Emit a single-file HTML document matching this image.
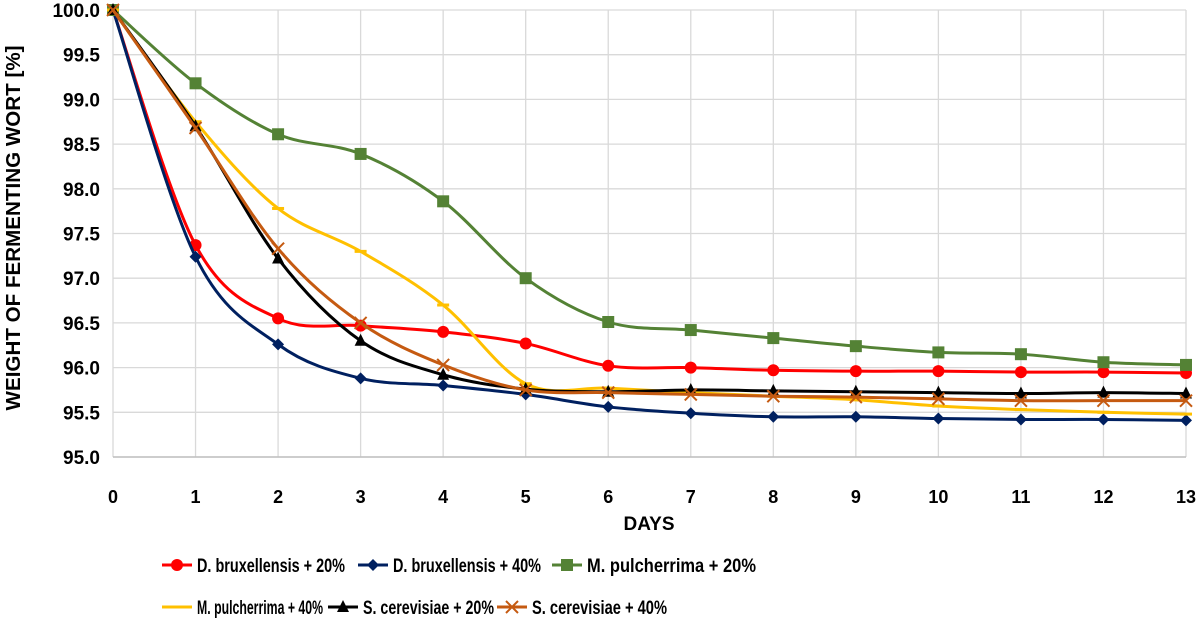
<!DOCTYPE html>
<html><head><meta charset="utf-8"><style>
body{margin:0;background:#fff;}
svg text{font-family:"Liberation Sans",sans-serif;font-weight:bold;fill:#000;}
</style></head><body>
<svg id="chart" width="1200" height="622" viewBox="0 0 1200 622">
<g id="grid"></g>
<g id="yticks"></g>
<g id="xticks"></g>
<g id="series"></g>
<text x="20" y="228" font-size="20" text-anchor="middle" textLength="365" lengthAdjust="spacingAndGlyphs" transform="rotate(-90 20 228)">WEIGHT OF FERMENTING WORT [%]</text>
<text x="649" y="530" font-size="19" text-anchor="middle">DAYS</text>
<g id="legend"></g>
</svg>
<script>
const days=[0,1,2,3,4,5,6,7,8,9,10,11,12,13];
const yTicks=[95.0,95.5,96.0,96.5,97.0,97.5,98.0,98.5,99.0,99.5,100.0];
const names=["D. bruxellensis + 20%","D. bruxellensis + 40%","M. pulcherrima + 20%","M. pulcherrima + 40%","S. cerevisiae + 20%","S. cerevisiae + 40%"];
const dbrux20=[100,97.37,96.55,96.47,96.40,96.27,96.02,96.00,95.97,95.96,95.96,95.95,95.95,95.94];
const dbrux40=[100,97.24,96.26,95.88,95.80,95.70,95.56,95.49,95.45,95.45,95.43,95.42,95.42,95.41];
const mpul20=[100,99.18,98.61,98.39,97.86,97.00,96.51,96.42,96.33,96.24,96.17,96.15,96.06,96.03];
const mpul40=[100,98.75,97.78,97.30,96.70,95.82,95.77,95.72,95.68,95.64,95.57,95.53,95.50,95.48];
const scer20=[100,98.70,97.22,96.30,95.92,95.76,95.73,95.75,95.74,95.73,95.72,95.71,95.72,95.71];
const scer40=[100,98.68,97.33,96.50,96.03,95.75,95.72,95.70,95.68,95.67,95.65,95.63,95.63,95.63];
const seriesData=[dbrux20,dbrux40,mpul20,mpul40,scer20,scer40];
const colors=["#ff0000","#002060","#548235","#ffc000","#000000","#c55a11"];
const markers=["circle","diamond","square","dash","triangle","x"];
const NS="http://www.w3.org/2000/svg";
const X0=113,X1=1186,Y0=457,Y1=10;
const xs=d=>X0+(d-0)/(13-0)*(X1-X0);
const ys=v=>Y0-(v-95)/(100-95)*(Y0-Y1);
function mk(tag,attrs,parent){const e=document.createElementNS(NS,tag);for(const k in attrs)e.setAttribute(k,attrs[k]);parent.appendChild(e);return e;}
const grid=document.getElementById('grid'),yt=document.getElementById('yticks'),xt=document.getElementById('xticks');
yTicks.forEach(v=>{
 const l=mk('line',{x1:X0,x2:X1,y1:ys(v),y2:ys(v),stroke:'#d9d9d9','stroke-width':1.3},grid);
 
 
 const t=mk('text',{x:100,y:ys(v)+7,'font-size':19,'text-anchor':'end'},yt);t.textContent=v.toFixed(1);
 
 
});
days.forEach(d=>{
 const l=mk('line',{x1:xs(d),x2:xs(d),y1:Y1,y2:Y0,stroke:'#d9d9d9','stroke-width':1.3},grid);
 
 
 const t=mk('text',{x:xs(d),y:503,'font-size':18,'text-anchor':'middle'},xt);t.textContent=d;
 
 
});
mk('line',{x1:X0,x2:X1,y1:Y0,y2:Y0,stroke:'#bfbfbf','stroke-width':1.5},grid);
function smooth(pts){let d=`M${pts[0][0]},${pts[0][1]}`;for(let i=0;i<pts.length-1;i++){const p0=pts[i-1]||pts[i],p1=pts[i],p2=pts[i+1],p3=pts[i+2]||p2;const c1=[p1[0]+(p2[0]-p0[0])/6,p1[1]+(p2[1]-p0[1])/6],c2=[p2[0]-(p3[0]-p1[0])/6,p2[1]-(p3[1]-p1[1])/6];d+=` C${c1[0]},${c1[1]} ${c2[0]},${c2[1]} ${p2[0]},${p2[1]}`;}return d;}
function marker(type,x,y,c,parent){
 let e;
 if(type==='circle')e=mk('circle',{cx:x,cy:y,r:6,fill:c},parent);
 else if(type==='diamond')e=mk('polygon',{points:`${x},${y-6} ${x+6},${y} ${x},${y+6} ${x-6},${y}`,fill:c},parent);
 else if(type==='square')e=mk('rect',{x:x-6,y:y-6,width:12,height:12,fill:c},parent);
 else if(type==='dash')e=mk('line',{x1:x-6,x2:x+6,y1:y,y2:y,stroke:c,'stroke-width':3},parent);
 else if(type==='triangle')e=mk('polygon',{points:`${x},${y-7} ${x+6},${y+5} ${x-6},${y+5}`,fill:c},parent);
 else e=mk('path',{d:`M${x-6},${y-6}L${x+6},${y+6}M${x+6},${y-6}L${x-6},${y+6}`,stroke:c,'stroke-width':2},parent);
 return e;
}
const sg=document.getElementById('series');
seriesData.forEach((arr,i)=>{
 const g=mk('g',{},sg);
 
 
 const pts=arr.map((v,j)=>[xs(days[j]),ys(v)]);
 const p=mk('path',{d:smooth(pts),fill:'none',stroke:colors[i],'stroke-width':3},g);
 
 
 pts.forEach(pt=>{const m=marker(markers[i],pt[0],pt[1],colors[i],g);
  
  });
});
const lg=document.getElementById('legend');
const lpos=[[162,565,148],[358,565,148],[552,565,169],[162,607,126],[328,607,131],[497,607,135]];
names.forEach((n,i)=>{
 const g=mk('g',{},lg);
 
 
 const [x,y,w]=lpos[i];
 mk('line',{x1:x,x2:x+30,y1:y,y2:y,stroke:colors[i],'stroke-width':3},g);
 if(markers[i]!=='dash')marker(markers[i],x+15,y,colors[i],g);
 const t=mk('text',{x:x+35,y:y+7,'font-size':19,textLength:w,lengthAdjust:'spacingAndGlyphs'},g);t.textContent=n;
});
</script>
</body></html>
